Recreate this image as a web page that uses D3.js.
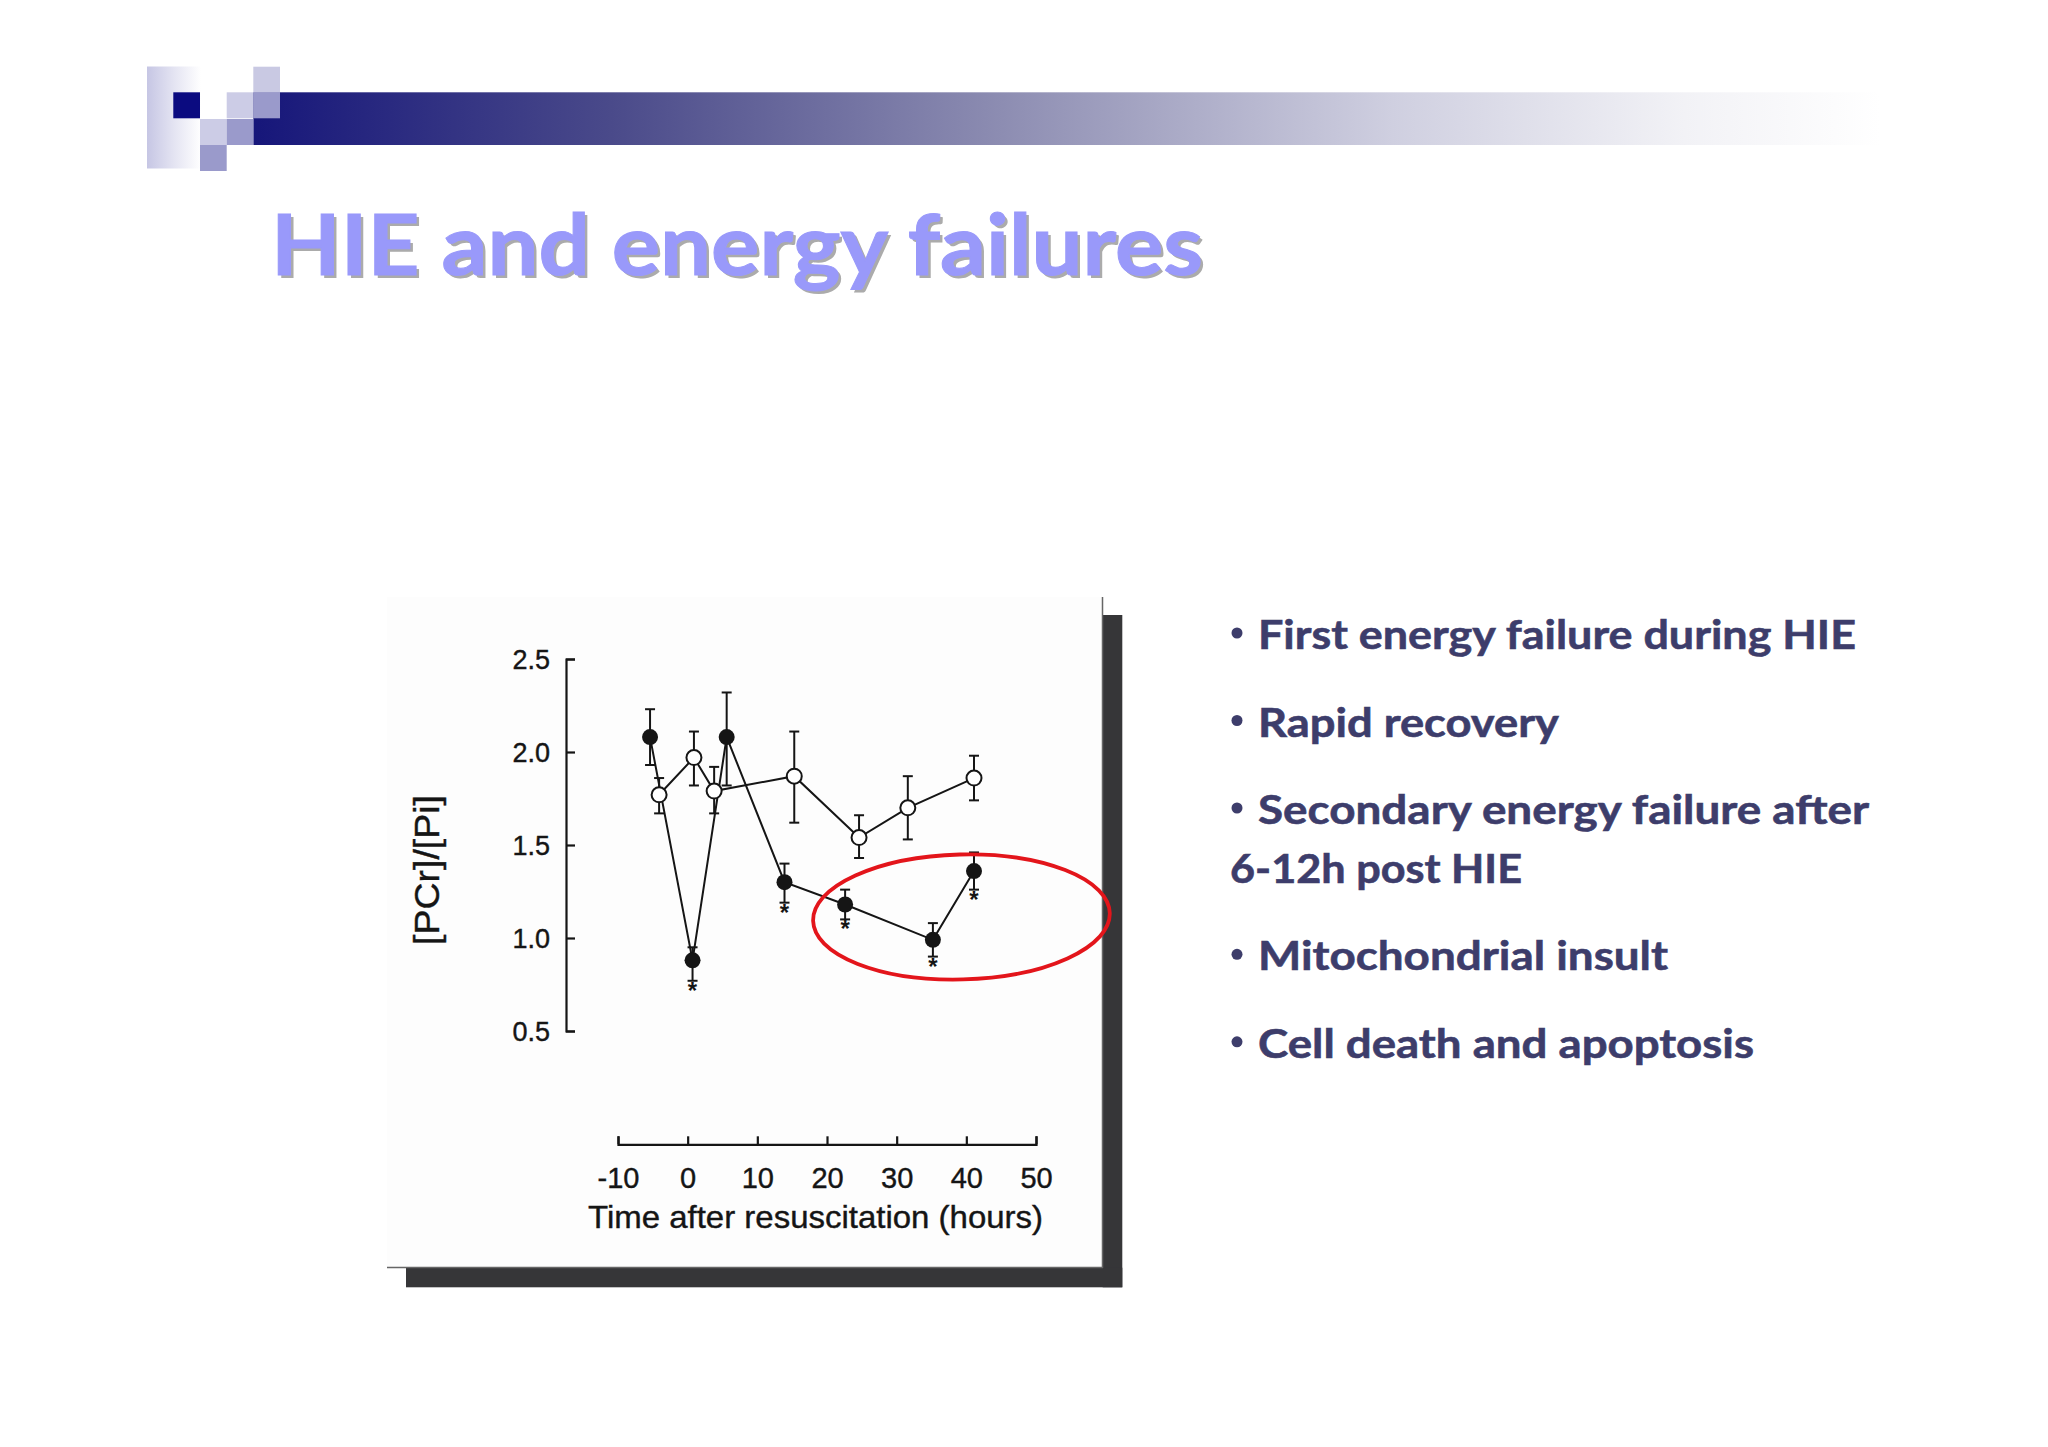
<!DOCTYPE html>
<html>
<head>
<meta charset="utf-8">
<script src="https://cdn.jsdelivr.net/npm/d3@7/dist/d3.min.js"></script>
<style>
  html, body { margin: 0; padding: 0; background: #ffffff; }
  svg { display: block; }
</style>
</head>
<body>
<svg id="slide" width="2048" height="1447"></svg>
<script>
// ---------------- data ----------------
const titleText = "HIE and energy failures";
const bulletLines = [
  "First energy failure during HIE",
  "Rapid recovery",
  "Secondary energy failure after",
  "6-12h post HIE",
  "Mitochondrial insult",
  "Cell death and apoptosis"
];
const bulletHasDot = [true, true, true, false, true, true];

const xTicks = [-10, 0, 10, 20, 30, 40, 50];
const yTicks = [0.5, 1.0, 1.5, 2.0, 2.5];
const xLabel = "Time after resuscitation (hours)";
const yLabel = "[PCr]/[Pi]";

// filled circles (HIE group)
const filledTime  = [-5.4, 0.7, 5.6, 13.9, 22.6, 35.2, 41.1];
const filledValue = [2.08, 0.88, 2.08, 1.30, 1.18, 0.99, 1.36];
const filledHigh  = [2.23, 0.95, 2.32, 1.40, 1.26, 1.08, 1.46];
const filledLow   = [1.93, 0.77, 1.82, 1.19, 1.10, 0.90, 1.26];
const filledStar  = [false, true, false, true, true, true, true];

// open circles (control group)
const openTime  = [-4.1, 0.9, 3.8, 15.3, 24.6, 31.6, 41.1];
const openValue = [1.77, 1.97, 1.79, 1.87, 1.54, 1.70, 1.86];
const openHigh  = [1.86, 2.11, 1.92, 2.11, 1.66, 1.87, 1.98];
const openLow   = [1.67, 1.82, 1.67, 1.62, 1.43, 1.53, 1.74];

// red highlight ellipse (center time, center value, half-width hours, half-height ratio)
const highlight = [39.3, 1.113, 21.3, 0.336];

// ---------------- drawing ----------------
const svg = d3.select("#slide");
const defs = svg.append("defs");

// header decoration
const barGrad = defs.append("linearGradient").attr("id", "barGrad")
  .attr("gradientUnits", "userSpaceOnUse").attr("x1", 253).attr("x2", 1880).attr("y1", 0).attr("y2", 0);
[[0, "#16167a"], [0.22, "#4a4a8a"], [0.45, "#8a8ab0"], [0.7, "#cfcfe0"], [0.88, "#f2f2f6"], [1, "#ffffff"]]
  .forEach(s => barGrad.append("stop").attr("offset", s[0]).attr("stop-color", s[1]));
const lightGrad = defs.append("linearGradient").attr("id", "lightGrad")
  .attr("x1", 0).attr("x2", 1).attr("y1", 0).attr("y2", 0);
[[0, "#c6c6e4"], [0.5, "#e4e4f2"], [1, "#ffffff"]]
  .forEach(s => lightGrad.append("stop").attr("offset", s[0]).attr("stop-color", s[1]));

const hdr = svg.append("g");
hdr.append("rect").attr("x", 147).attr("y", 66.5).attr("width", 54).attr("height", 102).attr("fill", "url(#lightGrad)");
hdr.append("rect").attr("x", 253.3).attr("y", 92.3).attr("width", 1627).attr("height", 52.7).attr("fill", "url(#barGrad)");
const cells = [
  [173.3, 92.3, "#0b0b80"],
  [226.7, 92.3, "#ccccE6"],
  [253.3, 66.7, "#c9c9e3"],
  [253.3, 92.3, "#9a9acb"],
  [200, 119, "#ccccE6"],
  [226.7, 119, "#9a9acb"],
  [200, 145, "#9a9acb"]
];
hdr.selectAll("rect.cell").data(cells).enter().append("rect").attr("class", "cell")
  .attr("x", d => d[0]).attr("y", d => d[1]).attr("width", 26.7).attr("height", 26)
  .attr("fill", d => d[2]);

// title with shadow
const titleFont = "Lato, 'Open Sans', sans-serif";
svg.append("text").attr("x", 274).attr("y", 278).text(titleText)
  .attr("font-family", titleFont).attr("font-weight", 700).attr("font-size", 85)
  .attr("textLength", 932).attr("lengthAdjust", "spacingAndGlyphs").attr("fill", "#ababab");
svg.append("text").attr("x", 271).attr("y", 275).text(titleText)
  .attr("font-family", titleFont).attr("font-weight", 700).attr("font-size", 85)
  .attr("textLength", 932).attr("lengthAdjust", "spacingAndGlyphs").attr("fill", "#9999fa")
  .attr("stroke", "#9999fa").attr("stroke-width", 1);

// bullets
const bulletBaselines = [649, 736.5, 824, 882.8, 970.3, 1057.8];
const bulletX = [1258, 1258, 1258, 1230, 1258, 1258];
const bulletW = [598, 301, 611, 292, 410, 496];
const bg = svg.append("g").attr("fill", "#3d3d6b");
bulletLines.forEach((t, i) => {
  bg.append("text").attr("x", bulletX[i]).attr("y", bulletBaselines[i]).text(t)
    .attr("font-family", titleFont).attr("font-weight", 700).attr("font-size", 41)
    .attr("textLength", bulletW[i]).attr("lengthAdjust", "spacingAndGlyphs")
    .attr("stroke", "#3d3d6b").attr("stroke-width", 0.6);
  if (bulletHasDot[i]) {
    bg.append("circle").attr("cx", 1237).attr("cy", bulletBaselines[i] - 16).attr("r", 5.5);
  }
});

// figure image frame with shadow
const fig = svg.append("g");
fig.append("rect").attr("x", 1102.7).attr("y", 615).attr("width", 19.6).attr("height", 672.3).attr("fill", "#363638");
fig.append("rect").attr("x", 406).attr("y", 1267.7).attr("width", 716.3).attr("height", 19.6).attr("fill", "#363638");
fig.append("rect").attr("x", 387).attr("y", 597).attr("width", 715.7).attr("height", 670.7).attr("fill", "#fdfdfd");
fig.append("line").attr("x1", 1102.5).attr("x2", 1102.5).attr("y1", 597).attr("y2", 1268).attr("stroke", "#666").attr("stroke-width", 1.5);
fig.append("line").attr("x1", 387).attr("x2", 1103).attr("y1", 1267.5).attr("y2", 1267.5).attr("stroke", "#666").attr("stroke-width", 1.5);

// scales
const x = d3.scaleLinear().domain([-10, 50]).range([618, 1036]);
const y = d3.scaleLinear().domain([0.5, 2.5]).range([1031, 659]);
const chartFont = "'Liberation Sans', Arial, Helvetica, sans-serif";
const ink = "#151515";

// y axis
const yAx = fig.append("g").attr("transform", "translate(566,0)")
  .call(d3.axisLeft(y).tickValues(yTicks).tickFormat(d3.format(".1f"))
    .tickSizeInner(-9).tickSizeOuter(-9).tickPadding(16));
yAx.select(".domain").attr("stroke", ink).attr("stroke-width", 2.2);
yAx.selectAll(".tick line").attr("stroke", ink).attr("stroke-width", 2.2);
yAx.selectAll(".tick text").attr("font-family", chartFont).attr("font-size", 27).attr("fill", ink)
  .attr("stroke", ink).attr("stroke-width", 0.4).attr("dy", "0.36em");

// x axis
const xAx = fig.append("g").attr("transform", "translate(0,1144.3)")
  .call(d3.axisBottom(x).tickValues(xTicks).tickFormat(d3.format("d"))
    .tickSizeInner(-8).tickSizeOuter(-8).tickPadding(24));
xAx.select(".domain").attr("stroke", ink).attr("stroke-width", 2.2);
xAx.selectAll(".tick line").attr("stroke", ink).attr("stroke-width", 2.2);
xAx.selectAll(".tick text").attr("font-family", chartFont).attr("font-size", 29).attr("fill", ink)
  .attr("stroke", ink).attr("stroke-width", 0.4)
  .attr("y", 44).attr("dy", 0).text(d => d < 0 ? "-" + Math.abs(d) : d);

// axis titles
fig.append("text").attr("x", 588).attr("y", 1228).text(xLabel)
  .attr("font-family", chartFont).attr("font-size", 32).attr("fill", ink)
  .attr("stroke", ink).attr("stroke-width", 0.4)
  .attr("textLength", 455).attr("lengthAdjust", "spacingAndGlyphs");
fig.append("text").attr("transform", "translate(439,870) rotate(-90)").attr("text-anchor", "middle")
  .text(yLabel).attr("font-family", chartFont).attr("font-size", 35).attr("fill", ink)
  .attr("stroke", ink).attr("stroke-width", 0.4)
  .attr("textLength", 150).attr("lengthAdjust", "spacingAndGlyphs");

// series
const filled = filledTime.map((t, i) => ({t, v: filledValue[i], hi: filledHigh[i], lo: filledLow[i], star: filledStar[i]}));
const open = openTime.map((t, i) => ({t, v: openValue[i], hi: openHigh[i], lo: openLow[i]}));
const line = d3.line().x(d => x(d.t)).y(d => y(d.v));

const plot = fig.append("g");
[open, filled].forEach(s => {
  plot.append("path").datum(s).attr("d", line).attr("fill", "none").attr("stroke", ink).attr("stroke-width", 2);
});
[open, filled].forEach(s => {
  const eb = plot.append("g").selectAll("g").data(s).enter().append("g").attr("stroke", ink).attr("stroke-width", 2);
  eb.append("line").attr("x1", d => x(d.t)).attr("x2", d => x(d.t)).attr("y1", d => y(d.hi)).attr("y2", d => y(d.lo));
  eb.append("line").attr("x1", d => x(d.t) - 5).attr("x2", d => x(d.t) + 5).attr("y1", d => y(d.hi)).attr("y2", d => y(d.hi));
  eb.append("line").attr("x1", d => x(d.t) - 5).attr("x2", d => x(d.t) + 5).attr("y1", d => y(d.lo)).attr("y2", d => y(d.lo));
});
plot.append("g").selectAll("circle").data(open).enter().append("circle")
  .attr("cx", d => x(d.t)).attr("cy", d => y(d.v)).attr("r", 7.5)
  .attr("fill", "#ffffff").attr("stroke", ink).attr("stroke-width", 2);
plot.append("g").selectAll("circle").data(filled).enter().append("circle")
  .attr("cx", d => x(d.t)).attr("cy", d => y(d.v)).attr("r", 8).attr("fill", ink);
plot.append("g").selectAll("text").data(filled.filter(d => d.star)).enter().append("text")
  .attr("x", d => x(d.t)).attr("y", d => y(d.lo) + 18).attr("text-anchor", "middle")
  .attr("font-family", chartFont).attr("font-size", 24).attr("font-weight", 700).attr("fill", ink).text("*");

// red highlight ellipse
const hx = x(highlight[0]), hy = y(highlight[1]);
const hrx = x(highlight[0] + highlight[2]) - hx, hry = y(highlight[1] - highlight[3]) - hy;
svg.append("ellipse").attr("cx", hx).attr("cy", hy).attr("rx", hrx).attr("ry", hry)
  .attr("transform", `rotate(-1.5,${hx},${hy})`)
  .attr("fill", "none").attr("stroke", "#e3151b").attr("stroke-width", 3.8);
</script>
</body>
</html>
